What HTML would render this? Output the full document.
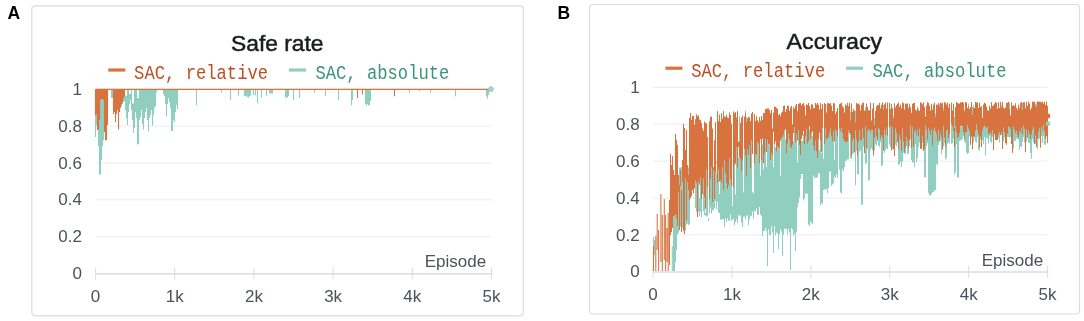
<!DOCTYPE html>
<html><head><meta charset="utf-8"><title>Safe rate and Accuracy</title>
<style>
html,body{margin:0;padding:0;background:#fff;}
body{width:1084px;height:321px;overflow:hidden;}
svg{display:block;}
.let{font-family:"Liberation Sans",Arial,sans-serif;font-weight:bold;font-size:17.5px;fill:#000;}
.tt{font-family:"Liberation Sans",Arial,sans-serif;font-size:22px;fill:#1b1d21;stroke:#1b1d21;stroke-width:0.5px;}
.ax{font-family:"Liberation Sans",Arial,sans-serif;font-size:17px;fill:#4D5159;}
.lg{font-family:"Liberation Mono","DejaVu Sans Mono",monospace;font-size:20px;}
</style></head><body>
<svg width="1084" height="321" viewBox="0 0 1084 321">
<text x="7.5" y="18.7" class="let">A</text>
<rect x="31.8" y="5.8" width="491.5" height="310" rx="3.5" fill="#fff" stroke="#dcdcdc" stroke-width="1.2"/>
<line x1="95.6" x2="491.5" y1="236.64" y2="236.64" stroke="#ececee" stroke-width="1"/>
<line x1="95.6" x2="491.5" y1="199.78" y2="199.78" stroke="#ececee" stroke-width="1"/>
<line x1="95.6" x2="491.5" y1="162.92" y2="162.92" stroke="#ececee" stroke-width="1"/>
<line x1="95.6" x2="491.5" y1="126.06" y2="126.06" stroke="#ececee" stroke-width="1"/>
<line x1="95.6" x2="491.5" y1="89.20" y2="89.20" stroke="#ececee" stroke-width="1"/>
<line x1="95.6" x2="491.5" y1="273.8" y2="273.8" stroke="#dcdce0" stroke-width="1.5"/>
<line x1="95.60" x2="95.60" y1="267.5" y2="279.5" stroke="#dcdce0" stroke-width="1"/>
<line x1="174.78" x2="174.78" y1="267.5" y2="279.5" stroke="#dcdce0" stroke-width="1"/>
<line x1="253.96" x2="253.96" y1="267.5" y2="279.5" stroke="#dcdce0" stroke-width="1"/>
<line x1="333.14" x2="333.14" y1="267.5" y2="279.5" stroke="#dcdce0" stroke-width="1"/>
<line x1="412.32" x2="412.32" y1="267.5" y2="279.5" stroke="#dcdce0" stroke-width="1"/>
<line x1="491.50" x2="491.50" y1="267.5" y2="279.5" stroke="#dcdce0" stroke-width="1"/>
<text x="82.0" y="279.10" class="ax" text-anchor="end">0</text>
<text x="82.0" y="242.24" class="ax" text-anchor="end">0.2</text>
<text x="82.0" y="205.38" class="ax" text-anchor="end">0.4</text>
<text x="82.0" y="168.52" class="ax" text-anchor="end">0.6</text>
<text x="82.0" y="131.66" class="ax" text-anchor="end">0.8</text>
<text x="82.0" y="94.80" class="ax" text-anchor="end">1</text>
<text x="95.60" y="301.7" class="ax" text-anchor="middle">0</text>
<text x="174.78" y="301.7" class="ax" text-anchor="middle">1k</text>
<text x="253.96" y="301.7" class="ax" text-anchor="middle">2k</text>
<text x="333.14" y="301.7" class="ax" text-anchor="middle">3k</text>
<text x="412.32" y="301.7" class="ax" text-anchor="middle">4k</text>
<text x="491.50" y="301.7" class="ax" text-anchor="middle">5k</text>
<text x="486.2" y="267.3" class="ax" text-anchor="end">Episode</text>
<path d="M95.5 89.3 V137.0 M96.5 89.3 V125.0 M97.5 89.3 V118.0 M98.5 89.3 V146.0 M99.5 89.3 V175.0 M100.5 89.3 V174.0 M101.5 89.3 V160.0 M102.5 89.3 V146.0 M103.5 89.3 V140.0 M104.5 89.3 V112.0 M105.5 89.3 V110.0 M106.5 89.3 V108.0 M107.5 89.3 V100.0 M111.5 89.3 V98.0 M112.5 89.3 V98.0 M113.5 89.3 V110.0 M114.5 89.3 V112.0 M115.5 89.3 V110.0 M116.5 89.3 V112.0 M117.5 89.3 V110.0 M118.5 89.3 V112.0 M119.5 89.3 V110.0 M120.5 89.3 V108.0 M121.5 89.3 V106.0 M122.5 89.3 V104.0 M123.5 89.3 V102.0 M124.5 89.3 V101.0 M125.5 95.7 V110.0 M126.5 95.7 V118.0 M127.5 89.3 V125.0 M128.5 89.3 V112.0 M129.5 94 V104.0 M130.5 94 V100.0 M131.5 89.3 V110.0 M132.5 103.6 V120.0 M133.5 103.6 V133.0 M134.5 89.3 V128.0 M135.5 89.3 V112.0 M136.5 89.3 V118.0 M137.5 98.3 V144.5 M138.5 98.3 V144.0 M139.5 89.3 V120.0 M140.5 89.3 V117.0 M141.5 89.3 V110.0 M142.5 89.3 V124.0 M143.5 89.3 V129.5 M144.5 89.3 V118.0 M145.5 89.3 V112.0 M146.5 89.3 V108.0 M147.5 89.3 V120.0 M148.5 89.3 V131.5 M149.5 89.3 V118.0 M150.5 89.3 V115.0 M151.5 89.3 V110.0 M152.5 89.3 V125.5 M153.5 89.3 V115.0 M154.5 89.3 V108.0 M155.5 89.3 V106.0 M156.5 89.3 V92.0 M163.5 89.3 V94.0 M164.5 89.3 V96.0 M165.5 89.3 V104.0 M166.5 89.3 V116.5 M167.5 89.3 V104.0 M168.5 89.3 V98.0 M169.5 89.3 V102.0 M170.5 89.3 V108.0 M171.5 89.3 V131.0 M172.5 89.3 V131.0 M173.5 89.3 V120.0 M174.5 89.3 V122.0 M175.5 89.3 V112.0 M176.5 89.3 V105.0 M177.5 89.3 V109.0 M196.5 89.3 V105.2 M221.5 89.3 V92.5 M230.5 89.3 V100.0 M238.5 89.3 V95.8 M244.5 89.3 V96.0 M245.5 89.3 V96.5 M246.5 89.3 V95.5 M247.5 89.3 V97.0 M248.5 89.3 V97.7 M249.5 89.3 V96.0 M250.5 89.3 V95.5 M253.5 89.3 V95.3 M255.5 89.3 V95.3 M257.5 89.3 V103.3 M261.5 89.3 V97.7 M266.5 89.3 V95.8 M269.5 89.3 V93.5 M270.5 89.3 V93.5 M271.5 89.3 V93.5 M272.5 89.3 V93.5 M285.5 89.3 V97.7 M286.5 89.3 V97.0 M287.5 89.3 V97.7 M288.5 89.3 V96.0 M293.5 89.3 V100.0 M299.5 89.3 V98.0 M314.5 89.3 V92.5 M325.5 89.3 V96.0 M338.5 89.3 V100.0 M351.5 89.3 V105.2 M352.5 89.3 V100.0 M365.5 89.3 V104.0 M366.5 89.3 V105.6 M367.5 89.3 V104.0 M368.5 89.3 V105.6 M369.5 89.3 V105.0 M370.5 89.3 V101.0 M409.5 89.3 V92.7 M419.5 89.3 V91.2 M430.5 89.3 V92.7 M455.5 89.3 V96.2 M486.5 89.3 V96.0 M487.5 89.3 V98.8 M488.5 89.3 V95.0" fill="none" stroke="#90CEBF" stroke-width="1.1" stroke-linejoin="miter"/>
<path d="M95.5 89.3 V115.0 M96.5 89.3 V114.0 M97.5 89.3 V130.0 M98.5 89.3 V129.6 M99.5 89.3 V120.0 M100.5 89.3 V100.0 M101.5 89.3 V99.0 M102.5 89.3 V99.0 M103.5 89.3 V100.0 M104.5 89.3 V132.0 M105.5 89.3 V140.5 M106.5 89.3 V140.0 M107.5 89.3 V125.0 M113.5 89.3 V114.0 M114.5 89.3 V112.0 M115.5 89.3 V122.0 M116.5 89.3 V114.0 M117.5 89.3 V110.0 M118.5 89.3 V129.6 M119.5 89.3 V112.0 M120.5 89.3 V108.0 M121.5 89.3 V104.0 M122.5 89.3 V102.0 M123.5 89.3 V98.0 M124.5 89.3 V96.0 M357.5 89.3 V98.1 M362.5 89.3 V94.4 M394.5 89.3 V96.2" fill="none" stroke="#D8733F" stroke-width="1.1"/>
<line x1="95.6" x2="491.5" y1="89.3" y2="89.3" stroke="#D8733F" stroke-width="1.35"/>
<circle cx="491" cy="89.2" r="2.4" fill="#a9d8cb" stroke="#90CEBF" stroke-width="1"/>
<text x="277.25" y="50.6" class="tt" text-anchor="middle" textLength="92.5" lengthAdjust="spacingAndGlyphs">Safe rate</text>
<line x1="108.3" x2="125.3" y1="70" y2="70" stroke="#D8733F" stroke-width="3.2"/>
<text x="134.1" y="78.7" class="lg" fill="#BA5022" textLength="134" lengthAdjust="spacingAndGlyphs">SAC, relative</text>
<line x1="289.0" x2="305.9" y1="70" y2="70" stroke="#90CEBF" stroke-width="3.2"/>
<text x="315.4" y="78.7" class="lg" fill="#3A9479" textLength="134" lengthAdjust="spacingAndGlyphs">SAC, absolute</text>
<text x="557.4" y="18.7" class="let">B</text>
<rect x="589.5" y="4.5" width="490" height="309.5" rx="3.5" fill="#fff" stroke="#dcdcdc" stroke-width="1.2"/>
<line x1="653.0" x2="1047.6" y1="234.90" y2="234.90" stroke="#ececee" stroke-width="1"/>
<line x1="653.0" x2="1047.6" y1="198.00" y2="198.00" stroke="#ececee" stroke-width="1"/>
<line x1="653.0" x2="1047.6" y1="161.10" y2="161.10" stroke="#ececee" stroke-width="1"/>
<line x1="653.0" x2="1047.6" y1="124.20" y2="124.20" stroke="#ececee" stroke-width="1"/>
<line x1="653.0" x2="1047.6" y1="87.30" y2="87.30" stroke="#ececee" stroke-width="1"/>
<line x1="653.0" x2="1047.6" y1="272.1" y2="272.1" stroke="#dcdce0" stroke-width="1.5"/>
<line x1="653.00" x2="653.00" y1="265.8" y2="277.8" stroke="#dcdce0" stroke-width="1"/>
<line x1="731.92" x2="731.92" y1="265.8" y2="277.8" stroke="#dcdce0" stroke-width="1"/>
<line x1="810.84" x2="810.84" y1="265.8" y2="277.8" stroke="#dcdce0" stroke-width="1"/>
<line x1="889.76" x2="889.76" y1="265.8" y2="277.8" stroke="#dcdce0" stroke-width="1"/>
<line x1="968.68" x2="968.68" y1="265.8" y2="277.8" stroke="#dcdce0" stroke-width="1"/>
<line x1="1047.60" x2="1047.60" y1="265.8" y2="277.8" stroke="#dcdce0" stroke-width="1"/>
<text x="639.7" y="277.40" class="ax" text-anchor="end">0</text>
<text x="639.7" y="240.50" class="ax" text-anchor="end">0.2</text>
<text x="639.7" y="203.60" class="ax" text-anchor="end">0.4</text>
<text x="639.7" y="166.70" class="ax" text-anchor="end">0.6</text>
<text x="639.7" y="129.80" class="ax" text-anchor="end">0.8</text>
<text x="639.7" y="92.90" class="ax" text-anchor="end">1</text>
<text x="653.00" y="299.6" class="ax" text-anchor="middle">0</text>
<text x="731.92" y="299.6" class="ax" text-anchor="middle">1k</text>
<text x="810.84" y="299.6" class="ax" text-anchor="middle">2k</text>
<text x="889.76" y="299.6" class="ax" text-anchor="middle">3k</text>
<text x="968.68" y="299.6" class="ax" text-anchor="middle">4k</text>
<text x="1047.60" y="299.6" class="ax" text-anchor="middle">5k</text>
<text x="1043.1" y="265.9" class="ax" text-anchor="end">Episode</text>
<path d="M653.5 237.0V271.0 M654.5 240.0V255.0 M672.3 246.0V271.0 M673.5 216.0V271.0 M674.5 200.0V271.0 M675.5 216.0V262.0 M676.5 205.0V250.0 M677.5 172.5V234.3 M678.5 177.2V232.8 M679.5 167.5V228.2 M680.5 167.4V226.4 M681.5 167.3V232.3 M682.5 170.2V227.8 M683.5 175.0V231.2 M684.5 179.3V227.8 M685.5 171.5V230.6 M686.5 169.1V224.4 M687.5 174.5V223.6 M688.5 167.6V224.9 M689.5 169.0V223.8 M691.5 160.3V189.1 M693.5 163.4V188.6 M695.5 174.3V208.1 M696.5 173.6V211.7 M697.5 161.5V211.3 M698.5 165.1V211.6 M699.5 197.9V216.0 M700.5 157.0V211.6 M701.5 159.7V217.0 M703.5 166.3V211.4 M704.5 165.3V215.6 M705.5 213.0V215.1 M706.5 158.5V216.4 M707.5 147.1V216.2 M708.5 218.3V221.0 M709.5 153.8V213.3 M710.5 163.3V207.2 M711.5 153.0V213.5 M712.5 152.5V210.2 M713.5 168.7V210.1 M714.5 153.5V208.0 M715.5 152.6V201.1 M716.5 173.3V209.2 M717.5 159.0V202.0 M718.5 150.4V212.4 M719.5 193.9V213.2 M720.5 145.8V219.5 M721.5 146.5V219.7 M722.5 150.7V219.0 M723.5 136.3V218.9 M724.5 138.3V227.0 M725.5 141.7V218.5 M726.5 139.6V221.7 M727.5 138.1V218.3 M728.5 131.0V220.5 M729.5 127.9V220.9 M730.5 126.1V214.6 M731.5 126.9V220.9 M732.5 205.8V219.4 M733.5 134.7V218.4 M734.5 118.6V225.0 M735.5 194.5V222.1 M736.5 123.8V219.3 M737.5 114.8V223.1 M738.5 157.5V214.9 M739.5 115.9V215.9 M740.5 124.0V215.2 M741.5 123.2V222.6 M742.5 125.4V227.0 M743.5 192.5V216.8 M744.5 125.8V216.5 M745.5 110.4V219.2 M746.5 117.1V215.7 M747.5 122.1V215.2 M748.5 118.4V225.0 M749.5 116.7V219.3 M750.5 127.2V215.6 M751.5 126.4V216.0 M752.5 192.1V211.4 M753.5 193.4V219.0 M754.5 127.1V211.0 M755.5 138.6V211.6 M756.5 126.3V208.2 M757.5 121.8V215.0 M758.5 121.7V214.7 M759.5 133.2V207.1 M760.5 175.7V214.4 M761.5 123.7V216.3 M762.5 144.5V236.0 M763.5 169.5V231.0 M764.5 128.4V231.1 M765.5 136.0V227.9 M766.5 167.3V230.7 M767.5 137.0V266.0 M768.5 127.6V228.9 M769.5 139.9V235.0 M770.5 145.3V234.9 M771.5 144.8V226.2 M772.5 137.1V232.6 M773.5 167.2V253.0 M774.5 145.0V226.3 M775.5 147.3V235.2 M776.5 141.8V232.6 M777.5 136.2V233.3 M778.5 123.2V249.0 M779.5 144.7V234.0 M780.5 175.8V229.3 M781.5 128.5V231.6 M782.5 130.0V256.0 M783.5 127.6V234.5 M784.5 125.6V228.4 M785.5 139.6V229.2 M786.5 136.6V228.5 M787.5 127.5V234.4 M788.5 126.9V228.9 M789.5 137.8V232.5 M790.5 133.5V270.0 M791.5 126.7V228.1 M792.5 143.2V229.6 M793.5 141.4V235.5 M794.5 123.9V233.6 M795.5 128.3V251.0 M796.5 127.0V231.7 M797.5 162.5V207.2 M798.5 128.8V202.4 M799.5 123.4V197.3 M800.5 141.5V179.0 M801.5 140.5V173.9 M802.5 140.4V174.2 M803.5 134.0V200.6 M804.5 139.7V197.9 M805.5 120.7V193.7 M806.5 119.2V193.2 M807.5 118.3V194.0 M808.5 119.6V224.4 M809.5 129.2V225.9 M810.5 137.3V221.5 M811.5 117.3V223.0 M812.5 136.0V224.2 M813.5 122.3V175.6 M814.5 132.3V178.2 M815.5 127.6V177.4 M816.5 117.9V178.0 M817.5 113.8V176.9 M818.5 114.0V173.0 M819.5 149.9V173.4 M820.5 130.1V205.2 M821.5 153.1V203.2 M822.5 112.4V203.7 M823.5 159.0V190.0 M824.5 118.1V189.3 M825.5 123.8V189.7 M826.5 120.8V189.1 M827.5 115.4V193.0 M828.5 129.9V188.0 M829.5 132.0V171.8 M830.5 125.8V171.5 M831.5 112.7V186.1 M832.5 111.0V184.4 M833.5 121.3V183.2 M834.5 159.9V176.4 M835.5 114.1V177.7 M836.5 118.3V174.6 M837.5 118.5V178.1 M839.5 125.2V169.5 M840.5 124.9V192.6 M841.5 117.9V193.7 M842.5 127.8V169.1 M843.5 112.5V171.4 M844.5 113.4V167.3 M845.5 124.4V161.1 M846.5 126.1V160.4 M847.5 121.1V159.2 M848.5 108.6V159.2 M850.5 111.9V158.1 M851.5 124.9V159.0 M852.5 118.8V153.4 M853.5 119.3V153.7 M854.5 126.5V152.0 M855.5 111.1V185.2 M856.5 119.9V150.7 M857.5 126.6V174.0 M858.5 106.8V174.7 M859.5 105.3V151.4 M860.5 121.6V150.5 M861.5 124.0V204.6 M862.5 125.6V205.1 M863.5 115.2V146.4 M864.5 112.0V142.8 M865.5 107.6V164.1 M866.5 109.1V163.2 M867.5 121.8V149.0 M868.5 115.7V180.7 M869.5 110.1V179.9 M870.5 118.8V150.4 M871.5 125.6V148.1 M872.5 125.3V150.4 M873.5 110.5V150.5 M874.5 118.1V150.4 M875.5 121.7V144.2 M876.5 110.2V145.8 M877.5 115.1V140.9 M878.5 123.8V145.4 M879.5 114.7V146.8 M880.5 109.5V141.9 M881.5 117.2V166.1 M882.5 111.3V165.0 M883.5 104.9V143.3 M884.5 115.9V153.1 M885.5 118.6V149.7 M886.5 113.1V148.5 M887.5 114.7V149.0 M889.5 121.4V144.6 M890.5 118.6V147.0 M891.5 124.7V142.0 M892.5 116.2V149.2 M893.5 115.9V141.4 M894.5 121.5V140.1 M895.5 107.1V144.8 M896.5 109.9V146.4 M897.5 120.6V142.5 M898.5 121.5V165.1 M899.5 120.1V163.9 M900.5 113.6V161.7 M901.5 114.6V167.1 M902.5 124.3V161.4 M903.5 105.1V152.7 M904.5 119.8V153.8 M905.5 106.4V153.7 M906.5 116.9V146.3 M907.5 112.9V153.9 M908.5 119.5V153.6 M909.5 104.5V145.9 M910.5 106.4V139.5 M911.5 114.5V160.1 M912.5 105.1V162.5 M913.5 114.4V162.5 M914.5 125.9V167.3 M915.5 114.8V144.5 M916.5 110.8V162.3 M917.5 106.2V157.9 M918.5 108.5V147.0 M919.5 115.3V142.6 M920.5 112.7V147.7 M921.5 109.4V147.1 M922.5 120.0V142.9 M923.5 111.9V142.8 M924.5 114.0V177.0 M925.5 118.0V177.6 M926.5 110.4V145.9 M927.5 114.0V143.0 M928.5 124.1V192.9 M929.5 112.1V195.7 M930.5 126.4V195.0 M931.5 112.7V194.3 M932.5 120.8V191.9 M933.5 120.4V192.1 M934.5 118.8V190.3 M935.5 113.5V190.2 M936.5 108.5V163.9 M937.5 116.0V165.3 M938.5 111.3V144.9 M939.5 103.5V142.0 M940.5 121.4V140.5 M941.5 117.7V153.9 M942.5 112.6V147.2 M943.5 107.8V146.3 M944.5 104.5V143.0 M945.5 122.7V159.4 M946.5 112.4V157.8 M947.5 120.1V144.3 M948.5 120.9V142.4 M949.5 109.0V143.4 M951.5 106.2V143.8 M952.5 110.8V143.2 M953.5 125.8V138.7 M954.5 116.6V174.4 M955.5 114.8V172.1 M956.5 118.0V144.2 M957.5 118.9V176.9 M958.5 122.3V177.7 M959.5 106.4V141.0 M960.5 114.0V140.1 M961.5 126.8V140.5 M962.5 125.9V138.4 M963.5 121.2V135.7 M964.5 110.1V141.6 M965.5 119.5V142.9 M966.5 112.0V152.4 M967.5 111.5V154.0 M968.5 103.4V153.0 M969.5 118.7V136.3 M970.5 110.3V143.3 M971.5 125.4V137.3 M972.5 107.1V136.0 M973.5 104.8V142.5 M974.5 120.7V137.4 M975.5 114.6V141.5 M976.5 103.4V142.7 M977.5 123.6V136.8 M978.5 119.8V149.5 M979.5 110.9V150.6 M980.5 108.0V139.3 M981.5 110.3V139.0 M982.5 122.4V140.2 M983.5 117.5V144.2 M984.5 108.1V136.9 M985.5 117.7V155.4 M986.5 126.1V138.0 M987.5 113.3V138.8 M988.5 122.8V143.5 M989.5 119.1V136.3 M990.5 111.2V141.4 M991.5 107.8V143.1 M992.5 123.9V136.8 M993.5 111.4V136.8 M994.5 120.1V135.1 M995.5 119.5V135.2 M996.5 123.1V139.8 M997.5 116.8V135.5 M998.5 103.6V138.0 M999.5 126.6V142.8 M1000.5 123.6V135.1 M1001.5 105.0V134.7 M1002.5 119.6V136.2 M1003.5 109.1V140.9 M1004.5 119.5V137.6 M1005.5 113.9V137.3 M1006.5 116.2V137.9 M1007.5 111.3V136.8 M1008.5 109.6V137.0 M1009.5 102.8V137.4 M1010.5 116.9V137.0 M1011.5 105.1V142.5 M1012.5 113.9V146.3 M1013.5 110.0V148.7 M1014.5 120.9V140.4 M1015.5 118.6V141.0 M1016.5 114.7V138.3 M1017.5 111.9V139.2 M1018.5 113.9V139.4 M1019.5 115.5V150.0 M1020.5 124.3V146.4 M1021.5 102.8V146.9 M1022.5 103.0V141.9 M1023.5 117.6V137.0 M1024.5 107.0V142.6 M1025.5 122.9V140.8 M1026.5 119.4V141.4 M1027.5 113.5V138.0 M1028.5 115.9V142.7 M1029.5 126.8V143.0 M1030.5 122.9V153.0 M1031.5 108.3V158.7 M1032.5 115.7V139.1 M1033.5 109.8V142.4 M1034.5 115.0V143.7 M1035.5 104.0V143.7 M1036.5 102.4V145.9 M1037.5 111.8V149.1 M1038.5 104.8V139.5 M1039.5 125.5V138.3 M1040.5 121.1V139.8 M1041.5 116.6V135.7 M1042.5 113.6V142.7 M1043.5 118.9V136.1 M1044.5 113.2V144.5 M1045.5 110.4V144.7 M1046.5 117.8V134.2 M1047.5 107.5V140.3" fill="none" stroke="#90CEBF" stroke-width="1.05"/>
<path d="M653.5 246.0V271.0 M655.8 236.0V271.0 M657.2 214.0V250.0 M658.6 230.0V271.0 M660.9 194.0V262.0 M662.3 215.0V271.0 M664.3 199.0V260.0 M665.6 215.0V271.0 M667.0 228.0V262.0 M668.2 213.0V271.0 M669.5 200.0V265.0 M670.5 154.0V235.0 M671.5 165.0V232.0 M672.5 156.0V228.0 M673.5 170.0V216.0 M674.5 175.0V216.0 M675.5 134.0V215.0 M676.5 140.0V218.0 M677.5 145.0V226.0 M678.5 175.0V192.0 M679.5 185.0V230.0 M680.5 170.0V186.0 M681.5 190.0V232.0 M682.5 160.0V182.0 M683.5 124.0V230.0 M684.5 128.0V234.0 M685.5 150.0V178.0 M686.5 130.0V220.0 M687.5 165.0V182.0 M688.5 175.0V190.0 M689.5 118.0V200.0 M690.5 113.0V198.0 M691.5 120.0V196.0 M692.5 116.0V190.0 M693.5 116.1V193.6 M694.5 124.8V188.3 M695.5 119.2V180.5 M696.5 114.3V182.9 M697.5 116.2V217.0 M698.5 115.4V181.5 M699.5 119.5V184.8 M700.5 119.9V177.7 M701.5 122.9V199.2 M702.5 128.6V194.3 M703.5 130.9V178.6 M704.5 121.5V197.3 M705.5 122.8V208.7 M706.5 123.5V169.3 M707.5 136.9V187.2 M709.5 121.5V198.6 M710.5 117.0V178.5 M711.5 116.4V167.2 M712.5 128.6V202.1 M713.5 167.3V169.7 M714.5 140.2V198.7 M715.5 122.3V172.6 M716.5 162.1V162.7 M717.5 111.0V182.6 M718.5 120.9V169.2 M719.5 114.4V181.4 M720.5 122.1V179.8 M721.5 113.2V182.4 M722.5 118.8V166.9 M723.5 111.1V189.6 M724.5 116.4V160.3 M725.5 116.8V172.9 M726.5 114.7V182.7 M727.5 117.4V188.9 M728.5 118.1V184.8 M729.5 112.8V158.0 M730.5 114.9V178.9 M731.5 123.8V185.9 M733.5 111.4V187.3 M734.5 113.3V165.2 M735.5 112.0V163.4 M736.5 117.6V146.9 M737.5 111.0V167.5 M738.5 141.8V146.7 M739.5 141.2V156.8 M740.5 123.0V158.7 M741.5 117.6V170.7 M742.5 115.6V160.1 M744.5 116.6V148.8 M745.5 113.2V155.4 M746.5 122.3V176.4 M747.5 118.6V149.4 M748.5 116.8V154.9 M749.5 118.0V145.2 M750.5 121.3V168.2 M751.5 113.6V140.1 M752.5 111.9V154.1 M754.5 114.0V163.8 M755.5 121.0V154.2 M756.5 116.2V154.5 M757.5 120.2V141.8 M758.5 122.7V143.6 M759.5 117.1V163.3 M760.5 120.8V139.2 M761.5 115.9V160.2 M762.5 119.9V138.4 M763.5 112.9V163.1 M764.5 113.0V153.6 M765.5 109.3V138.4 M766.5 108.8V152.1 M767.5 108.4V139.4 M768.5 108.5V143.9 M769.5 110.1V143.7 M770.5 113.2V160.1 M771.5 109.9V152.7 M772.5 128.4V156.0 M773.5 112.5V131.8 M774.5 106.5V144.6 M775.5 106.7V141.5 M776.5 107.9V151.5 M777.5 108.8V145.7 M778.5 115.3V147.8 M779.5 113.9V147.8 M780.5 115.9V140.5 M781.5 112.8V138.0 M782.5 111.6V136.8 M783.5 106.0V134.7 M784.5 105.5V130.6 M785.5 111.9V129.2 M786.5 109.0V153.8 M787.5 105.7V143.4 M788.5 105.7V133.6 M789.5 111.1V139.3 M790.5 107.4V146.5 M791.5 106.0V148.0 M792.5 124.5V144.5 M793.5 107.3V132.9 M794.5 108.7V127.1 M795.5 105.4V142.3 M796.5 104.1V133.8 M797.5 111.3V140.5 M798.5 104.1V130.0 M799.5 103.2V144.8 M800.5 103.1V154.9 M801.5 105.2V139.1 M802.5 103.9V135.4 M803.5 103.1V131.0 M804.5 105.7V144.1 M805.5 115.6V136.3 M806.5 104.3V128.7 M807.5 105.1V143.7 M808.5 103.0V141.2 M809.5 106.1V126.6 M810.5 109.3V139.1 M811.5 104.3V132.4 M812.5 104.5V131.5 M813.5 108.2V145.6 M814.5 108.1V150.5 M815.5 103.0V140.6 M816.5 104.5V151.2 M817.5 103.1V158.0 M818.5 104.7V139.1 M819.5 109.6V132.7 M820.5 102.9V140.0 M821.5 109.1V151.8 M822.5 104.0V128.0 M824.5 103.1V143.7 M825.5 104.1V128.6 M826.5 112.5V139.8 M827.5 103.2V138.0 M828.5 102.9V137.0 M829.5 103.9V132.7 M830.5 103.0V128.3 M831.5 105.7V136.4 M832.5 111.0V141.3 M833.5 102.9V131.1 M834.5 103.4V141.4 M835.5 114.1V128.9 M836.5 111.5V131.3 M837.5 108.1V136.6 M839.5 104.2V128.6 M840.5 103.4V131.5 M841.5 102.8V128.0 M842.5 106.3V132.9 M843.5 107.4V139.1 M844.5 112.4V140.9 M845.5 104.6V141.8 M846.5 105.4V141.7 M847.5 102.7V141.5 M848.5 106.2V130.6 M849.5 102.8V133.1 M850.5 120.6V134.5 M851.5 103.6V156.0 M852.5 111.8V140.6 M853.5 109.0V138.4 M854.5 110.7V151.7 M855.5 122.4V130.3 M856.5 102.7V139.6 M857.5 103.9V155.7 M858.5 103.6V141.7 M859.5 104.8V130.2 M860.5 110.5V139.9 M861.5 104.8V140.6 M862.5 103.0V128.3 M863.5 102.6V137.8 M864.5 110.5V153.3 M865.5 111.2V126.3 M866.5 103.5V148.1 M867.5 106.9V131.5 M868.5 110.2V128.9 M869.5 110.9V129.7 M870.5 102.7V132.6 M871.5 120.5V129.8 M872.5 108.8V129.8 M873.5 103.1V155.4 M874.5 125.6V138.1 M875.5 110.9V127.9 M876.5 106.6V136.4 M877.5 105.1V139.7 M878.5 105.2V127.8 M879.5 102.8V128.9 M880.5 108.3V138.7 M881.5 104.8V134.9 M882.5 102.5V137.3 M883.5 109.9V150.7 M884.5 104.3V129.3 M885.5 102.5V134.7 M886.5 108.5V127.2 M887.5 102.5V135.6 M889.5 102.7V127.4 M890.5 109.1V125.7 M891.5 103.7V150.5 M892.5 108.0V127.1 M893.5 118.7V149.3 M894.5 103.3V156.1 M895.5 108.0V128.6 M896.5 105.3V132.6 M897.5 103.7V141.7 M898.5 102.4V148.7 M899.5 107.0V134.8 M900.5 104.4V139.2 M901.5 108.2V150.9 M902.5 102.6V128.2 M903.5 103.3V141.8 M904.5 109.5V152.4 M905.5 103.6V147.6 M906.5 103.8V136.9 M907.5 103.6V140.7 M908.5 108.0V148.2 M909.5 103.8V139.8 M910.5 108.0V125.3 M911.5 112.7V148.1 M912.5 104.0V126.7 M913.5 103.0V146.8 M914.5 103.1V131.4 M915.5 109.5V129.4 M916.5 111.0V135.3 M917.5 108.5V129.5 M918.5 110.3V136.2 M919.5 111.0V128.4 M920.5 102.3V148.7 M921.5 103.3V148.9 M922.5 104.4V135.8 M923.5 102.3V150.8 M924.5 106.9V148.7 M925.5 116.4V125.2 M926.5 105.5V129.8 M927.5 102.2V139.6 M928.5 102.9V127.4 M929.5 105.8V130.4 M930.5 110.6V135.0 M931.5 103.8V128.9 M932.5 109.5V145.7 M933.5 104.6V130.3 M934.5 102.4V128.1 M935.5 117.2V130.9 M936.5 104.5V133.5 M937.5 105.1V140.7 M938.5 103.3V129.5 M939.5 106.7V140.6 M940.5 102.4V132.5 M941.5 103.4V136.9 M942.5 102.7V149.7 M943.5 111.1V125.8 M944.5 102.2V137.2 M945.5 102.4V146.7 M946.5 104.5V130.7 M947.5 102.7V129.6 M948.5 107.5V138.1 M949.5 103.8V134.6 M951.5 102.6V124.2 M952.5 110.4V126.2 M953.5 103.7V130.7 M954.5 127.8V146.9 M955.5 107.1V126.0 M956.5 102.1V132.1 M957.5 102.9V138.1 M958.5 103.5V136.8 M959.5 103.5V133.1 M960.5 102.2V125.7 M961.5 102.6V125.9 M962.5 102.0V126.3 M963.5 102.7V132.0 M964.5 111.4V138.9 M965.5 102.1V132.0 M966.5 102.4V132.0 M967.5 108.1V124.8 M968.5 106.0V128.5 M969.5 108.9V131.2 M970.5 106.9V144.7 M971.5 102.0V136.4 M972.5 114.9V149.2 M973.5 108.1V136.1 M974.5 107.9V136.6 M975.5 102.0V130.5 M976.5 102.5V124.1 M977.5 102.4V129.9 M978.5 108.0V134.4 M979.5 102.6V146.9 M980.5 107.0V136.1 M981.5 106.2V147.1 M982.5 117.6V130.4 M983.5 104.6V127.1 M984.5 102.8V125.4 M985.5 103.6V127.3 M986.5 106.5V128.2 M987.5 110.2V126.7 M988.5 110.9V134.1 M989.5 105.7V133.8 M990.5 108.6V131.9 M991.5 102.0V135.0 M992.5 105.9V129.9 M993.5 105.2V149.9 M994.5 103.7V133.4 M995.5 102.0V139.9 M996.5 102.7V139.9 M997.5 108.7V139.9 M998.5 102.3V134.2 M999.5 108.1V131.9 M1000.5 101.8V135.2 M1001.5 107.8V132.3 M1002.5 102.1V148.9 M1003.5 107.5V127.4 M1004.5 108.5V132.5 M1005.5 107.6V143.1 M1006.5 102.8V144.7 M1007.5 103.1V133.5 M1008.5 101.8V126.8 M1009.5 108.8V126.6 M1010.5 115.5V128.5 M1011.5 102.4V144.0 M1012.5 106.1V153.1 M1013.5 105.1V126.6 M1014.5 106.1V129.2 M1015.5 103.2V133.6 M1016.5 107.8V130.8 M1017.5 109.8V134.8 M1018.5 104.7V137.5 M1019.5 108.3V130.7 M1020.5 103.0V133.1 M1021.5 101.7V127.8 M1022.5 109.9V134.5 M1023.5 102.2V125.4 M1024.5 102.2V128.8 M1025.5 108.2V152.3 M1026.5 101.7V129.3 M1027.5 105.7V137.8 M1028.5 101.6V130.8 M1029.5 103.6V134.0 M1030.5 110.1V139.2 M1031.5 107.8V134.5 M1032.5 101.6V129.6 M1033.5 102.0V126.5 M1034.5 101.8V143.9 M1035.5 105.4V135.1 M1036.5 107.5V147.3 M1037.5 101.6V138.3 M1038.5 101.6V131.7 M1039.5 101.7V127.9 M1040.5 101.7V147.7 M1041.5 102.3V127.0 M1042.5 101.6V130.3 M1043.5 103.4V124.7 M1044.5 101.7V131.4 M1045.5 104.9V138.5 M1046.5 101.5V136.1 M1047.5 106.1V143.0" fill="none" stroke="#D8733F" stroke-width="1.05"/>
<circle cx="1048" cy="123.7" r="2.4" fill="#90CEBF"/>
<circle cx="1048" cy="116" r="2.4" fill="#D8733F"/>
<text x="834.4" y="48.9" class="tt" text-anchor="middle" textLength="95.6" lengthAdjust="spacingAndGlyphs">Accuracy</text>
<line x1="665.4" x2="682.4" y1="68.2" y2="68.2" stroke="#D8733F" stroke-width="3.2"/>
<text x="691.1999999999999" y="77.4" class="lg" fill="#BA5022" textLength="134" lengthAdjust="spacingAndGlyphs">SAC, relative</text>
<line x1="846.0999999999999" x2="863.0" y1="68.2" y2="68.2" stroke="#90CEBF" stroke-width="3.2"/>
<text x="872.5" y="77.4" class="lg" fill="#3A9479" textLength="134" lengthAdjust="spacingAndGlyphs">SAC, absolute</text>
</svg>
</body></html>
